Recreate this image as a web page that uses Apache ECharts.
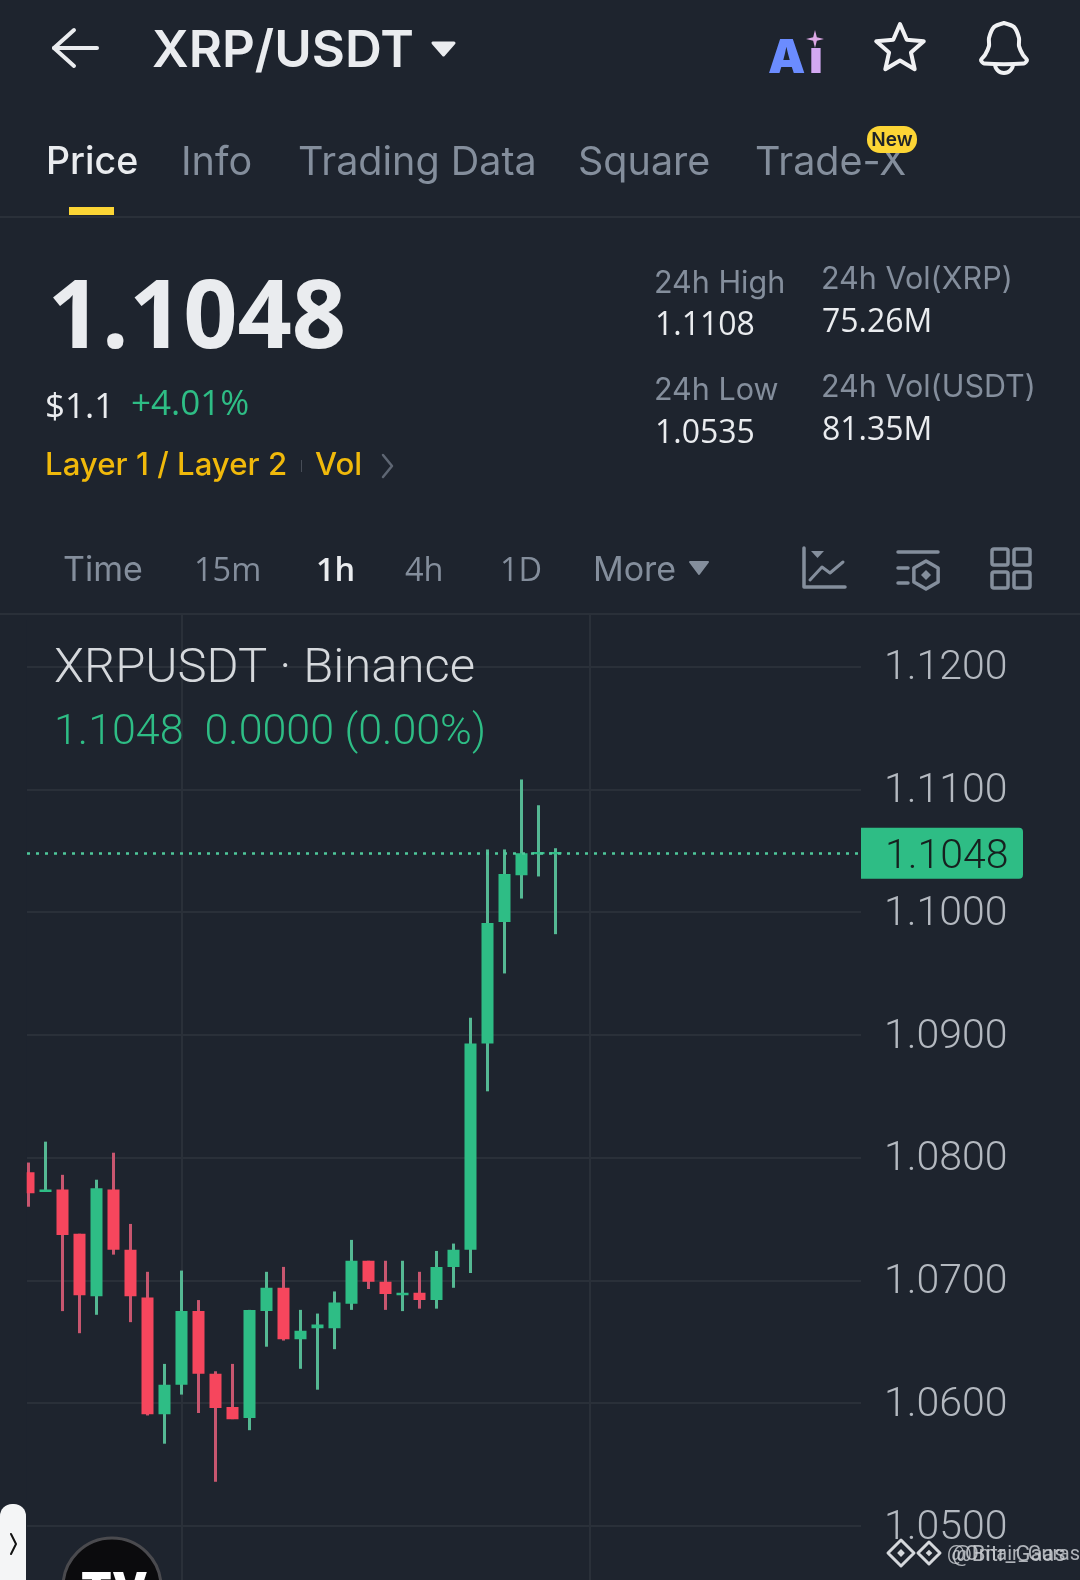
<!DOCTYPE html>
<html>
<head>
<meta charset="utf-8">
<style>html,body{margin:0;padding:0;background:#1e242e}#c{width:1080px;height:1580px}</style>
<script src="https://cdn.jsdelivr.net/npm/echarts@6/dist/echarts.min.js"></script>
</head>
<body>
<div id="c"></div>
<script>
// 1h candles (index, O/C/L/H)
const hours  = [0,1,2,3,4,5,6,7,8,9,10,11,12,13,14,15,16,17,18,19,20,21,22,23,24,25,26,27,28,29,30,31];
const opens  = [1.0788,1.0772,1.0774,1.0738,1.0687,1.0774,1.0725,1.0686,1.0591,1.0615,1.0675,1.0624,1.0597,1.0588,1.0675,1.0694,1.0652,1.0661,1.0661,1.0681,1.0716,1.0699,1.0688,1.0690,1.0684,1.0711,1.0725,1.0893,1.0992,1.1030,1.1047,1.1047];
const closes = [1.0771,1.0774,1.0737,1.0688,1.0775,1.0725,1.0687,1.0591,1.0615,1.0675,1.0624,1.0596,1.0587,1.0676,1.0694,1.0652,1.0659,1.0664,1.0682,1.0716,1.0699,1.0689,1.0690,1.0684,1.0711,1.0725,1.0893,1.0991,1.1031,1.1048,1.1049,1.1049];
const lows   = [1.0760,1.0773,1.0675,1.0657,1.0672,1.0721,1.0666,1.0590,1.0567,1.0607,1.0592,1.0536,1.0587,1.0578,1.0646,1.0651,1.0628,1.0611,1.0644,1.0676,1.0693,1.0676,1.0675,1.0677,1.0677,1.0694,1.0706,1.0854,1.0950,1.1011,1.1029,1.0982];
const highs  = [1.0796,1.0813,1.0786,1.0738,1.0782,1.0804,1.0746,1.0707,1.0632,1.0708,1.0684,1.0626,1.0632,1.0676,1.0707,1.0711,1.0676,1.0673,1.0691,1.0733,1.0716,1.0716,1.0716,1.0707,1.0724,1.0730,1.0914,1.1051,1.1051,1.1108,1.1087,1.1052];
const lastPrice = 1.1048;
const gridHours = [9,33];
const priceTicks = [1.05,1.06,1.07,1.08,1.09,1.10,1.11,1.12];

const tabs = [['Price',46],['Info',181],['Trading Data',298],['Square',578],['Trade-X',755]];
const frames = [['Time',63,'i'],['15m',194,'o'],['1h',316,'o'],['4h',405,'o'],['1D',500,'o'],['More',593,'i']];
const stats = [['24h High','1.1108',654,282,326],['24h Vol(XRP)','75.26M',821,278,323],['24h Low','1.0535',654,389,434],['24h Vol(USDT)','81.35M',821,386,431]];

const UP='#2EBD85', DOWN='#F6465D', UPW='#55B893', DOWNW='#C8566F', BG='#1e242e';
const GREY='#848E9C', WHITE='#EAECEF', YEL='#F0B90B', LINE='#2A3039';
const F='Inter, "Noto Sans", sans-serif', O='"Open Sans", sans-serif', R='Roboto, "Liberation Sans", sans-serif';
const candles = hours.map((h,i)=>[h,opens[i],closes[i],lows[i],highs[i]]);

function T(text,x,y,size,fill,weight,family,extra){
  return {type:'text',silent:true,z:10,style:Object.assign({text,x,y,fill,font:`${weight||400} ${size}px ${family||F}`,verticalAlign:'middle',align:'left'},extra||{})};
}
function L(pts,color,w,smooth){return {type:'polyline',silent:true,z:10,shape:{points:pts,smooth:smooth||0},style:{stroke:color,lineWidth:w,fill:null,lineCap:'round',lineJoin:'round'}};}
function P(pts,fill,stroke,w){return {type:'polygon',silent:true,z:10,shape:{points:pts},style:{fill:fill||'none',stroke:stroke||null,lineWidth:w||0,lineJoin:'round'}};}
function Rc(x,y,w,h,fill,r,stroke,lw){return {type:'rect',silent:true,z:10,shape:{x,y,width:w,height:h,r:r||0},style:{fill:fill||'none',stroke:stroke||null,lineWidth:lw||0}};}
function star(cx,cy,R1,R2,n){const a=[];for(let i=0;i<n*2;i++){const r=i%2?R2:R1,t=-Math.PI/2+i*Math.PI/n;a.push([cx+r*Math.cos(t),cy+r*Math.sin(t)]);}return a;}
function hex(cx,cy,r){const a=[];for(let i=0;i<6;i++){const t=-Math.PI/2+i*Math.PI/3;a.push([cx+r*Math.cos(t),cy+r*Math.sin(t)]);}return a;}
function binance(cx,cy,r,c){return [P([[cx,cy-r],[cx+r,cy],[cx,cy+r],[cx-r,cy]],'none',c,3),P([[cx,cy-r*.3],[cx+r*.3,cy],[cx,cy+r*.3],[cx-r*.3,cy]],c)];}

const g=[];
// hides the half of the first candle that falls left of the plot
g.push(Rc(0,620,26.7,880,BG));
// header
g.push(L([[74,30],[54,48],[74,66]],WHITE,4), L([[54,48],[97,48]],WHITE,4));
g.push(T('XRP/USDT',152,52,51,WHITE,600));
g.push(P([[433,43],[454,43],[443.5,55]],WHITE,WHITE,3));
g.push(T('A',768,59,47,'#6B8CFF',900));
g.push(T('i',809,59,47,'#D3A8F2',900));
g.push(Rc(806,28,20,20,BG));
g.push(P(star(815,39,9,2.6,4),'#DDA8E6'));
g.push(P(star(900,49,25,11.5,5),'none','#F0F1F3',4));
g.push(L([[1004,23],[994,27],[989,38],[989,46],[985,55],[981,60],[984,63.5],[1024,63.5],[1027,60],[1023,55],[1019,46],[1019,38],[1014,27],[1004,23]],'#F0F1F3',4,.25));
g.push({type:'arc',silent:true,z:10,shape:{cx:1004,cy:64,r:9,startAngle:0,endAngle:Math.PI},style:{stroke:'#F0F1F3',lineWidth:4,fill:null}});
// tabs
tabs.forEach((t,i)=>g.push(T(t[0],t[1],163,i===0?37.5:39.5,i===0?WHITE:GREY,i===0?500:400)));
g.push(Rc(867,126,50,27,'#FCD535',13));
g.push(T('New',892,140,19,'#1E2329',600,F,{align:'center'}));
g.push(Rc(69,207,45,8,'#FCD535'));
g.push(Rc(0,216,1080,2,LINE));
// price block
g.push(T('1.1048',47.5,321,95,WHITE,700,O));
g.push(T('$1.1',45,408,35,WHITE,500,O));
g.push(T('+4.01%',131,405,35,UP,400,O));
g.push(T('Layer 1 / Layer 2',45,466,31.2,YEL,500));
g.push(Rc(301,460,1,12,'#474D57'));
g.push(T('Vol',315,466,31.2,YEL,500));
g.push(L([[383,455],[392,466],[383,477]],'#5E6673',2.5));
stats.forEach(s=>{g.push(T(s[0],s[2],s[3]+2,30.5,GREY,400));g.push(T(s[1],s[2]+1,s[4],32,WHITE,400,O));});
// timeframe row
frames.forEach(f=>{const on=f[0]==='1h',n=f[2]==='o';g.push(T(f[0],f[1],n?572:571,n?32.5:34,on?WHITE:GREY,on?600:400,n?O:F));});
g.push(P([[690,562],[708,562],[699,574]],GREY,GREY,2));
g.push(L([[804,548],[804,587],[845,587]],GREY,3.5), P([[811,551],[824,551],[817.5,558]],GREY), L([[810,580],[822,567],[830,573],[843,562]],GREY,3));
g.push(L([[898,552],[938,552]],GREY,3.5), L([[898,568],[908,568]],GREY,3.5), L([[898,583],[908,583]],GREY,3.5), P(hex(926,575,14),'none',GREY,3.5), P([[926,570],[931,575],[926,580],[921,575]],GREY));
[[992,549],[1014,549],[992,572],[1014,572]].forEach(p=>g.push(Rc(p[0],p[1],16,16,'none',2,GREY,3.5)));
g.push(Rc(0,613,1080,2,LINE));
// chart title
g.push(T('XRPUSDT · Binance',54,670,49,'#D5D8DC',300,R));
g.push(T('1.1048  0.0000 (0.00%)',54,733,43,UP,300,R));
// handle and avatar
g.push(Rc(0,1504,26,90,'#F4F5F6',[12,12,12,12]));
g.push(L([[11,1534],[16,1544],[11,1554]],'#111',2));
g.push({type:'circle',silent:true,z:10,shape:{cx:112,cy:1587,r:49},style:{fill:'#0B0B0D',stroke:'#4A4A4E',lineWidth:3}});
g.push(T('TV',81,1591,45,'#FFFFFF',900));
// watermark (two overlaid)
g.push(...binance(901,1553,13,'#D5D8DC'), ...binance(929,1553,11,'#D5D8DC'));
g.push(T('@Omair_Guras',947,1555,20,'#C9CCD1',400,R,{opacity:.85}));
g.push(T('@Bitr_Gaas',952,1555,22,'#C9CCD1',400,R,{opacity:.85}));

const chart=echarts.init(document.getElementById('c'));
chart.setOption({
  backgroundColor:BG,
  animation:false,
  grid:{left:27,right:219,top:613.7,bottom:0,containLabel:false},
  xAxis:{type:'value',min:-0.1,max:48.97,
    axisLine:{show:false},axisLabel:{show:false},
    axisTick:{show:false,customValues:gridHours},
    splitLine:{show:true,lineStyle:{color:LINE,width:2}}},
  yAxis:{type:'value',position:'right',min:1.0456,max:1.1243,
    axisLine:{show:false},axisTick:{show:false,customValues:priceTicks},
    axisLabel:{margin:23,customValues:priceTicks,formatter:v=>`{a|${v.toFixed(4)}}`,
      rich:{a:{color:'#B4B9C0',fontFamily:'Roboto',fontWeight:300,fontSize:41,padding:[5,0,0,0]}}},
    splitLine:{show:true,lineStyle:{color:LINE,width:2}}},
  series:[
    {name:'wicks',type:'candlestick',data:candles,encode:{x:0,y:[1,2,3,4]},barWidth:1,silent:true,
      itemStyle:{color:UPW,color0:DOWNW,borderColor:UPW,borderColor0:DOWNW,borderWidth:3},
      markLine:{silent:true,symbol:'none',animation:false,precision:4,
        lineStyle:{color:'#4FC79A',type:[3,6],width:2.5},
        label:{show:true,position:'end',distance:0,formatter:()=>`{t|${lastPrice.toFixed(4)}}`,
          backgroundColor:UP,padding:[0,0,0,24],width:138,height:51,borderRadius:[0,4,4,0],align:'left',verticalAlign:'middle',
          rich:{t:{color:'#16201F',fontFamily:'Roboto',fontWeight:300,fontSize:41,lineHeight:51,height:41,padding:[10,0,0,0]}}},
        data:[{yAxis:lastPrice}]}},
    {name:'bodies',type:'candlestick',data:candles,encode:{x:0,y:[1,2,3,4]},barWidth:13,silent:true,
      itemStyle:{color:UP,color0:DOWN,borderColor:UP,borderColor0:DOWN,borderWidth:0}}
  ],
  graphic:{elements:g}
});
</script>
</body>
</html>
